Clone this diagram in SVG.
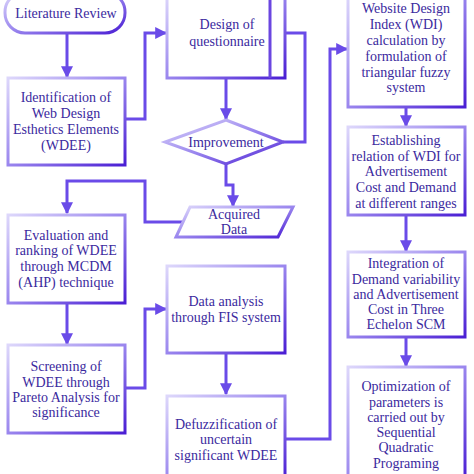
<svg xmlns="http://www.w3.org/2000/svg" width="474" height="474" viewBox="0 0 474 474">
<defs>
<linearGradient id="bg" x1="0" y1="0" x2="1" y2="1">
<stop offset="0" stop-color="#ddd7fb"/>
<stop offset="0.5" stop-color="#9a86ee"/>
<stop offset="1" stop-color="#4a1ed4"/>
</linearGradient>
<marker id="ah" viewBox="0 0 10 10" refX="9" refY="5" markerUnits="userSpaceOnUse" markerWidth="12" markerHeight="12" orient="auto">
<path d="M0,0 L10,5 L0,10 z" fill="#6a4be8"/>
</marker>
<style>
.n{fill:#fff;stroke:url(#bg);stroke-width:3}
.t{font-family:'Liberation Serif','DejaVu Serif',serif;font-size:14px;fill:#3b2a9e;text-anchor:middle}
.c{fill:none;stroke:#6a4be8;stroke-width:3;marker-end:url(#ah)}
.c2{fill:none;stroke:#6a4be8;stroke-width:3}
</style>
</defs>
<rect width="474" height="474" fill="#fff"/>
<g id="connectors">
<path class="c" d="M67,33 V77"/>
<path class="c" d="M125,119 H145 V33 H166"/>
<path class="c" d="M226,78 V119"/>
<path class="c2" d="M285,33 H305 V142 H283"/>
<path class="c" d="M226,163 V185 H233 V206"/>
<path class="c" d="M184,222 H145 V181 H67 V213"/>
<path class="c" d="M67,303 V344"/>
<path class="c" d="M125,388 H145 V309 H166"/>
<path class="c" d="M226,353 V394"/>
<path class="c" d="M285,439 H330 V49 H347"/>
<path class="c" d="M406,107 V126"/>
<path class="c" d="M406,215 V251"/>
<path class="c" d="M406,337 V366"/>
</g>
<g id="literature">
<rect class="n" x="5" y="-8" width="120" height="41" rx="20"/>
<text class="t" x="66" y="18">Literature Review</text>
</g>
<g id="identification">
<rect class="n" x="8" y="78" width="117" height="87"/>
<text class="t" x="66" y="102">Identification of</text>
<text class="t" x="66" y="118">Web Design</text>
<text class="t" x="66" y="134">Esthetics Elements</text>
<text class="t" x="66" y="150">(WDEE)</text>
</g>
<g id="design">
<rect class="n" x="167" y="-6" width="118" height="84"/>
<line x1="183" y1="-6" x2="183" y2="78" stroke="url(#bg)" stroke-width="3"/>
<line x1="270" y1="-6" x2="270" y2="78" stroke="#6a46e0" stroke-width="3"/>
<text class="t" x="227" y="29">Design of</text>
<text class="t" x="227" y="46">questionnaire</text>
</g>
<g id="improvement">
<polygon class="n" points="226,120 283,142 226,164 165,142"/>
<text class="t" x="226" y="147">Improvement</text>
</g>
<g id="acquired">
<polygon class="n" points="190,207 293,207 278,237 176,237"/>
<text class="t" x="234" y="219">Acquired</text>
<text class="t" x="234" y="234">Data</text>
</g>
<g id="evaluation">
<rect class="n" x="8" y="215" width="117" height="88"/>
<text class="t" x="66" y="240">Evaluation and</text>
<text class="t" x="66" y="255">ranking of WDEE</text>
<text class="t" x="66" y="271">through MCDM</text>
<text class="t" x="66" y="287">(AHP) technique</text>
</g>
<g id="screening">
<rect class="n" x="8" y="345" width="117" height="88"/>
<text class="t" x="66" y="371">Screening of</text>
<text class="t" x="66" y="387">WDEE through</text>
<text class="t" x="66" y="402">Pareto Analysis for</text>
<text class="t" x="66" y="417">significance</text>
</g>
<g id="dataanalysis">
<rect class="n" x="167" y="266" width="118" height="87"/>
<text class="t" x="226" y="306">Data analysis</text>
<text class="t" x="226" y="322">through FIS system</text>
</g>
<g id="defuzz">
<rect class="n" x="167" y="396" width="118" height="84"/>
<text class="t" x="226" y="429">Defuzzification of</text>
<text class="t" x="226" y="444">uncertain</text>
<text class="t" x="226" y="460">significant WDEE</text>
</g>
<g id="wdi">
<rect class="n" x="348" y="-6" width="117" height="113"/>
<text class="t" x="406" y="13">Website Design</text>
<text class="t" x="406" y="29">Index (WDI)</text>
<text class="t" x="406" y="45">calculation by</text>
<text class="t" x="406" y="61">formulation of</text>
<text class="t" x="406" y="77">triangular fuzzy</text>
<text class="t" x="406" y="92">system</text>
</g>
<g id="establishing">
<rect class="n" x="348" y="127" width="117" height="88"/>
<text class="t" x="406" y="145">Establishing</text>
<text class="t" x="406" y="161">relation of WDI for</text>
<text class="t" x="406" y="176">Advertisement</text>
<text class="t" x="406" y="192">Cost and Demand</text>
<text class="t" x="406" y="208">at different ranges</text>
</g>
<g id="integration">
<rect class="n" x="348" y="252" width="117" height="85"/>
<text class="t" x="406" y="268">Integration of</text>
<text class="t" x="406" y="284">Demand variability</text>
<text class="t" x="406" y="299">and Advertisement</text>
<text class="t" x="406" y="314">Cost in Three</text>
<text class="t" x="406" y="329">Echelon SCM</text>
</g>
<g id="optimization">
<rect class="n" x="348" y="367" width="117" height="113"/>
<text class="t" x="406" y="391">Optimization of</text>
<text class="t" x="406" y="407">parameters is</text>
<text class="t" x="406" y="422">carried out by</text>
<text class="t" x="406" y="437">Sequential</text>
<text class="t" x="406" y="452">Quadratic</text>
<text class="t" x="406" y="468">Programing</text>
</g>
</svg>
